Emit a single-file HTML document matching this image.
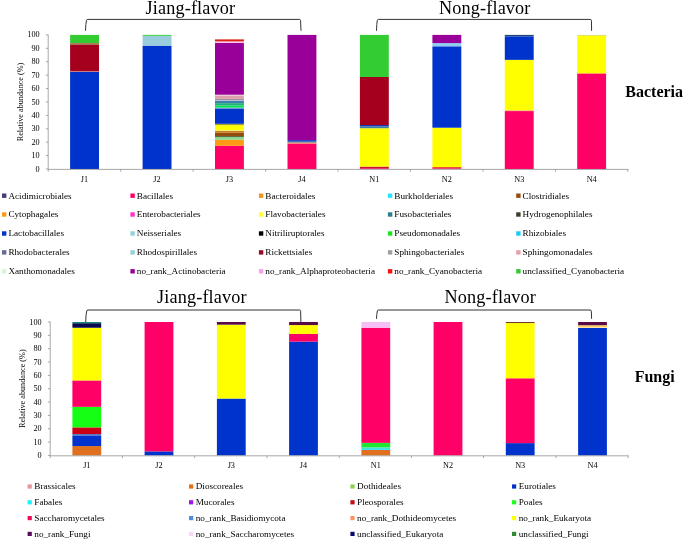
<!DOCTYPE html>
<html><head><meta charset="utf-8"><title>Relative abundance</title>
<style>html,body{margin:0;padding:0;background:#fff}svg{display:block}text{font-family:"Liberation Serif","DejaVu Serif",serif;fill:#000}.t{font-size:8.2px}.l{font-size:9.2px}.h{font-size:18.2px;letter-spacing:0.15px}.b{font-size:16px;font-weight:bold}</style></head><body>
<svg width="685" height="540" viewBox="0 0 685 540">
<rect width="685" height="540" fill="#fff"/>
<rect x="70.1" y="71.78" width="28.9" height="97.22" fill="#0033cc"/>
<rect x="70.1" y="70.97" width="28.9" height="0.80" fill="#c86464"/>
<rect x="70.1" y="44.69" width="28.9" height="26.28" fill="#a5001e"/>
<rect x="70.1" y="43.88" width="28.9" height="0.80" fill="#8c5a28"/>
<rect x="70.1" y="43.08" width="28.9" height="0.80" fill="#b4503c"/>
<rect x="70.1" y="34.90" width="28.9" height="8.18" fill="#33cc33"/>
<rect x="142.6" y="45.63" width="28.9" height="123.37" fill="#0033cc"/>
<rect x="142.6" y="35.84" width="28.9" height="9.79" fill="#99ccdd"/>
<rect x="142.6" y="34.90" width="28.9" height="0.94" fill="#33cc33"/>
<rect x="215.0" y="145.80" width="28.9" height="23.20" fill="#ff0066"/>
<rect x="215.0" y="139.77" width="28.9" height="6.03" fill="#ff9a14"/>
<rect x="215.0" y="137.08" width="28.9" height="2.68" fill="#8cd68c"/>
<rect x="215.0" y="136.01" width="28.9" height="1.07" fill="#5a6e46"/>
<rect x="215.0" y="132.66" width="28.9" height="3.35" fill="#964b0f"/>
<rect x="215.0" y="130.92" width="28.9" height="1.74" fill="#c8781e"/>
<rect x="215.0" y="130.38" width="28.9" height="0.54" fill="#e6e696"/>
<rect x="215.0" y="125.15" width="28.9" height="5.23" fill="#ffff00"/>
<rect x="215.0" y="123.81" width="28.9" height="1.34" fill="#a0a028"/>
<rect x="215.0" y="108.52" width="28.9" height="15.29" fill="#0033cc"/>
<rect x="215.0" y="107.58" width="28.9" height="0.94" fill="#6e8cc8"/>
<rect x="215.0" y="105.57" width="28.9" height="2.01" fill="#00e650"/>
<rect x="215.0" y="103.16" width="28.9" height="2.41" fill="#1eb478"/>
<rect x="215.0" y="100.88" width="28.9" height="2.28" fill="#3c82aa"/>
<rect x="215.0" y="100.21" width="28.9" height="0.67" fill="#aab4dc"/>
<rect x="215.0" y="99.54" width="28.9" height="0.67" fill="#b4a0b4"/>
<rect x="215.0" y="98.87" width="28.9" height="0.67" fill="#6e5a6e"/>
<rect x="215.0" y="95.38" width="28.9" height="3.49" fill="#dca0aa"/>
<rect x="215.0" y="94.71" width="28.9" height="0.67" fill="#f0d2dc"/>
<rect x="215.0" y="42.81" width="28.9" height="51.90" fill="#990099"/>
<rect x="215.0" y="41.40" width="28.9" height="1.41" fill="#fac8f0"/>
<rect x="215.0" y="39.39" width="28.9" height="2.01" fill="#dc1e14"/>
<rect x="287.5" y="143.52" width="28.9" height="25.48" fill="#ff0066"/>
<rect x="287.5" y="142.85" width="28.9" height="0.67" fill="#f08c50"/>
<rect x="287.5" y="141.78" width="28.9" height="1.07" fill="#968c8c"/>
<rect x="287.5" y="140.03" width="28.9" height="1.74" fill="#1e46be"/>
<rect x="287.5" y="34.90" width="28.9" height="105.13" fill="#990099"/>
<rect x="359.9" y="168.20" width="28.9" height="0.80" fill="#ff0066"/>
<rect x="359.9" y="166.59" width="28.9" height="1.61" fill="#c81428"/>
<rect x="359.9" y="128.23" width="28.9" height="38.35" fill="#ffff00"/>
<rect x="359.9" y="126.36" width="28.9" height="1.88" fill="#3c82aa"/>
<rect x="359.9" y="125.02" width="28.9" height="1.34" fill="#1437aa"/>
<rect x="359.9" y="77.01" width="28.9" height="48.01" fill="#a5001e"/>
<rect x="359.9" y="34.90" width="28.9" height="42.11" fill="#33cc33"/>
<rect x="432.4" y="168.33" width="28.9" height="0.67" fill="#ff0066"/>
<rect x="432.4" y="167.12" width="28.9" height="1.21" fill="#e61e28"/>
<rect x="432.4" y="127.70" width="28.9" height="39.43" fill="#ffff00"/>
<rect x="432.4" y="46.30" width="28.9" height="81.40" fill="#0033cc"/>
<rect x="432.4" y="43.08" width="28.9" height="3.22" fill="#8ccdf0"/>
<rect x="432.4" y="34.90" width="28.9" height="8.18" fill="#990099"/>
<rect x="504.8" y="111.07" width="28.9" height="57.93" fill="#ff0066"/>
<rect x="504.8" y="110.26" width="28.9" height="0.80" fill="#f0a078"/>
<rect x="504.8" y="59.84" width="28.9" height="50.42" fill="#ffff00"/>
<rect x="504.8" y="36.38" width="28.9" height="23.47" fill="#0033cc"/>
<rect x="504.8" y="34.90" width="28.9" height="1.48" fill="#1e4682"/>
<rect x="577.2" y="73.39" width="28.9" height="95.61" fill="#ff0066"/>
<rect x="577.2" y="35.57" width="28.9" height="37.82" fill="#ffff00"/>
<rect x="577.2" y="34.90" width="28.9" height="0.67" fill="#c8d250"/>
<path d="M48.2 34.6V169.4H628.4" fill="none" stroke="#929292" stroke-width="0.8"/>
<path d="M45.9 169.00H48.2M45.9 155.59H48.2M45.9 142.18H48.2M45.9 128.77H48.2M45.9 115.36H48.2M45.9 101.95H48.2M45.9 88.54H48.2M45.9 75.13H48.2M45.9 61.72H48.2M45.9 48.31H48.2M45.9 34.90H48.2M48.2 169.4v2.3M120.7 169.4v2.3M193.1 169.4v2.3M265.6 169.4v2.3M338.0 169.4v2.3M410.4 169.4v2.3M482.9 169.4v2.3M555.4 169.4v2.3M627.8 169.4v2.3" fill="none" stroke="#929292" stroke-width="0.8"/>
<text class="t" x="39.6" y="171.5" text-anchor="end">0</text>
<text class="t" x="39.6" y="158.1" text-anchor="end">10</text>
<text class="t" x="39.6" y="144.7" text-anchor="end">20</text>
<text class="t" x="39.6" y="131.3" text-anchor="end">30</text>
<text class="t" x="39.6" y="117.9" text-anchor="end">40</text>
<text class="t" x="39.6" y="104.5" text-anchor="end">50</text>
<text class="t" x="39.6" y="91.0" text-anchor="end">60</text>
<text class="t" x="39.6" y="77.6" text-anchor="end">70</text>
<text class="t" x="39.6" y="64.2" text-anchor="end">80</text>
<text class="t" x="39.6" y="50.8" text-anchor="end">90</text>
<text class="t" x="39.6" y="37.4" text-anchor="end">100</text>
<text class="t" x="84.5" y="181.7" text-anchor="middle">J1</text>
<text class="t" x="157.0" y="181.7" text-anchor="middle">J2</text>
<text class="t" x="229.4" y="181.7" text-anchor="middle">J3</text>
<text class="t" x="301.9" y="181.7" text-anchor="middle">J4</text>
<text class="t" x="374.3" y="181.7" text-anchor="middle">N1</text>
<text class="t" x="446.8" y="181.7" text-anchor="middle">N2</text>
<text class="t" x="519.3" y="181.7" text-anchor="middle">N3</text>
<text class="t" x="591.7" y="181.7" text-anchor="middle">N4</text>
<text class="t" transform="translate(22.6 102.0) rotate(-90)" text-anchor="middle">Relative abundance (%)</text>
<rect x="72.4" y="446.06" width="28.8" height="9.34" fill="#e0701e"/>
<rect x="72.4" y="435.39" width="28.8" height="10.67" fill="#0033cc"/>
<rect x="72.4" y="434.06" width="28.8" height="1.33" fill="#5078c8"/>
<rect x="72.4" y="427.39" width="28.8" height="6.67" fill="#cc0014"/>
<rect x="72.4" y="406.84" width="28.8" height="20.54" fill="#14ff14"/>
<rect x="72.4" y="380.43" width="28.8" height="26.41" fill="#ff0066"/>
<rect x="72.4" y="327.74" width="28.8" height="52.69" fill="#ffff00"/>
<rect x="72.4" y="323.20" width="28.8" height="4.54" fill="#0a0a50"/>
<rect x="72.4" y="322.00" width="28.8" height="1.20" fill="#148c78"/>
<rect x="144.6" y="451.40" width="28.8" height="4.00" fill="#0033cc"/>
<rect x="144.6" y="322.00" width="28.8" height="129.40" fill="#ff0066"/>
<rect x="216.9" y="398.57" width="28.8" height="56.83" fill="#0033cc"/>
<rect x="216.9" y="324.67" width="28.8" height="73.90" fill="#ffff00"/>
<rect x="216.9" y="322.00" width="28.8" height="2.67" fill="#5a0a46"/>
<rect x="289.1" y="341.61" width="28.8" height="113.79" fill="#0033cc"/>
<rect x="289.1" y="333.87" width="28.8" height="7.74" fill="#ff0066"/>
<rect x="289.1" y="325.07" width="28.8" height="8.80" fill="#ffff00"/>
<rect x="289.1" y="322.00" width="28.8" height="3.07" fill="#5a0a46"/>
<rect x="361.4" y="449.93" width="28.8" height="5.47" fill="#e0701e"/>
<rect x="361.4" y="447.40" width="28.8" height="2.53" fill="#3ce6e0"/>
<rect x="361.4" y="442.86" width="28.8" height="4.54" fill="#1ee632"/>
<rect x="361.4" y="327.74" width="28.8" height="115.12" fill="#ff0066"/>
<rect x="361.4" y="322.00" width="28.8" height="5.74" fill="#f5beF5"/>
<rect x="433.6" y="322.00" width="28.8" height="133.40" fill="#ff0066"/>
<rect x="505.8" y="443.13" width="28.8" height="12.27" fill="#0033cc"/>
<rect x="505.8" y="378.29" width="28.8" height="64.83" fill="#ff0066"/>
<rect x="505.8" y="323.07" width="28.8" height="55.23" fill="#ffff00"/>
<rect x="505.8" y="322.00" width="28.8" height="1.07" fill="#783c28"/>
<rect x="578.1" y="328.00" width="28.8" height="127.40" fill="#0033cc"/>
<rect x="578.1" y="327.47" width="28.8" height="0.53" fill="#fff0c8"/>
<rect x="578.1" y="325.20" width="28.8" height="2.27" fill="#ffcc66"/>
<rect x="578.1" y="322.00" width="28.8" height="3.20" fill="#5a0a46"/>
<path d="M50.2 321.7V455.8H628.7" fill="none" stroke="#929292" stroke-width="0.8"/>
<path d="M47.9 455.40H50.2M47.9 442.06H50.2M47.9 428.72H50.2M47.9 415.38H50.2M47.9 402.04H50.2M47.9 388.70H50.2M47.9 375.36H50.2M47.9 362.02H50.2M47.9 348.68H50.2M47.9 335.34H50.2M47.9 322.00H50.2M50.2 455.8v2.3M122.4 455.8v2.3M194.7 455.8v2.3M266.9 455.8v2.3M339.2 455.8v2.3M411.4 455.8v2.3M483.6 455.8v2.3M555.9 455.8v2.3M628.1 455.8v2.3" fill="none" stroke="#929292" stroke-width="0.8"/>
<text class="t" x="41.6" y="457.9" text-anchor="end">0</text>
<text class="t" x="41.6" y="444.6" text-anchor="end">10</text>
<text class="t" x="41.6" y="431.2" text-anchor="end">20</text>
<text class="t" x="41.6" y="417.9" text-anchor="end">30</text>
<text class="t" x="41.6" y="404.5" text-anchor="end">40</text>
<text class="t" x="41.6" y="391.2" text-anchor="end">50</text>
<text class="t" x="41.6" y="377.9" text-anchor="end">60</text>
<text class="t" x="41.6" y="364.5" text-anchor="end">70</text>
<text class="t" x="41.6" y="351.2" text-anchor="end">80</text>
<text class="t" x="41.6" y="337.8" text-anchor="end">90</text>
<text class="t" x="41.6" y="324.5" text-anchor="end">100</text>
<text class="t" x="86.8" y="468.3" text-anchor="middle">J1</text>
<text class="t" x="159.0" y="468.3" text-anchor="middle">J2</text>
<text class="t" x="231.3" y="468.3" text-anchor="middle">J3</text>
<text class="t" x="303.5" y="468.3" text-anchor="middle">J4</text>
<text class="t" x="375.8" y="468.3" text-anchor="middle">N1</text>
<text class="t" x="448.0" y="468.3" text-anchor="middle">N2</text>
<text class="t" x="520.2" y="468.3" text-anchor="middle">N3</text>
<text class="t" x="592.5" y="468.3" text-anchor="middle">N4</text>
<text class="t" transform="translate(24.8 388.7) rotate(-90)" text-anchor="middle">Relative abundance (%)</text>
<path d="M85.5 30.8Q85.7 23.4 86.5 20.4Q86.6 19.4 87.8 19.4H299.3Q300.5 19.4 300.55 20.6L301 30.8" fill="none" stroke="#333" stroke-width="1.0"/>
<path d="M376.5 30.8Q376.7 23.4 377.3 20.4Q377.4 19.4 378.6 19.4H590.2Q591.4 19.4 591.45 20.6L591.6 30.8" fill="none" stroke="#333" stroke-width="1.0"/>
<path d="M85.7 322Q85.9 314.0 86.7 311.0Q86.8 310.0 88.0 310.0H299.4Q300.6 310.0 300.65 311.2L300.9 322" fill="none" stroke="#333" stroke-width="1.0"/>
<path d="M376.5 318.8Q376.7 314.0 377.3 311.0Q377.4 310.0 378.6 310.0H590.1Q591.3 310.0 591.35 311.2L591.6 318.8" fill="none" stroke="#333" stroke-width="1.0"/>
<text class="h" x="190.4" y="13.7" text-anchor="middle">Jiang-flavor</text>
<text class="h" x="484.8" y="13.7" text-anchor="middle">Nong-flavor</text>
<text class="h" x="201.9" y="302.9" text-anchor="middle">Jiang-flavor</text>
<text class="h" x="490.3" y="302.9" text-anchor="middle">Nong-flavor</text>
<text class="b" x="625.3" y="96.7">Bacteria</text>
<text class="b" x="634.7" y="381.8">Fungi</text>
<rect x="2" y="193.5" width="4.4" height="4.4" fill="#4b3a7a"/>
<text class="l" x="8.4" y="198.6">Acidimicrobiales</text>
<rect x="130.4" y="193.5" width="4.4" height="4.4" fill="#ff0066"/>
<text class="l" x="136.8" y="198.6">Bacillales</text>
<rect x="258.9" y="193.5" width="4.4" height="4.4" fill="#f0961e"/>
<text class="l" x="265.3" y="198.6">Bacteroidales</text>
<rect x="387.9" y="193.5" width="4.4" height="4.4" fill="#28e6ff"/>
<text class="l" x="394.3" y="198.6">Burkholderiales</text>
<rect x="516.2" y="193.5" width="4.4" height="4.4" fill="#964b0f"/>
<text class="l" x="522.6" y="198.6">Clostridiales</text>
<rect x="2" y="212.3" width="4.4" height="4.4" fill="#ff9a14"/>
<text class="l" x="8.4" y="217.4">Cytophagales</text>
<rect x="130.4" y="212.3" width="4.4" height="4.4" fill="#ff32c8"/>
<text class="l" x="136.8" y="217.4">Enterobacteriales</text>
<rect x="258.9" y="212.3" width="4.4" height="4.4" fill="#ffff32"/>
<text class="l" x="265.3" y="217.4">Flavobacteriales</text>
<rect x="387.9" y="212.3" width="4.4" height="4.4" fill="#2d7d8c"/>
<text class="l" x="394.3" y="217.4">Fusobacteriales</text>
<rect x="516.2" y="212.3" width="4.4" height="4.4" fill="#3c3c28"/>
<text class="l" x="522.6" y="217.4">Hydrogenophilales</text>
<rect x="2" y="231.3" width="4.4" height="4.4" fill="#0033cc"/>
<text class="l" x="8.4" y="236.4">Lactobacillales</text>
<rect x="130.4" y="231.3" width="4.4" height="4.4" fill="#96d2dc"/>
<text class="l" x="136.8" y="236.4">Neisseriales</text>
<rect x="258.9" y="231.3" width="4.4" height="4.4" fill="#000000"/>
<text class="l" x="265.3" y="236.4">Nitriliruptorales</text>
<rect x="387.9" y="231.3" width="4.4" height="4.4" fill="#1ee61e"/>
<text class="l" x="394.3" y="236.4">Pseudomonadales</text>
<rect x="516.2" y="231.3" width="4.4" height="4.4" fill="#1ec8fa"/>
<text class="l" x="522.6" y="236.4">Rhizobiales</text>
<rect x="2" y="250.2" width="4.4" height="4.4" fill="#6a6a9a"/>
<text class="l" x="8.4" y="255.3">Rhodobacterales</text>
<rect x="130.4" y="250.2" width="4.4" height="4.4" fill="#96d2d7"/>
<text class="l" x="136.8" y="255.3">Rhodospirillales</text>
<rect x="258.9" y="250.2" width="4.4" height="4.4" fill="#960a28"/>
<text class="l" x="265.3" y="255.3">Rickettsiales</text>
<rect x="387.9" y="250.2" width="4.4" height="4.4" fill="#a0a0a0"/>
<text class="l" x="394.3" y="255.3">Sphingobacteriales</text>
<rect x="516.2" y="250.2" width="4.4" height="4.4" fill="#e6a0a5"/>
<text class="l" x="522.6" y="255.3">Sphingomonadales</text>
<rect x="2" y="269.1" width="4.4" height="4.4" fill="#d8f5d8"/>
<text class="l" x="8.4" y="274.2">Xanthomonadales</text>
<rect x="130.4" y="269.1" width="4.4" height="4.4" fill="#990099"/>
<text class="l" x="136.8" y="274.2">no_rank_Actinobacteria</text>
<rect x="258.9" y="269.1" width="4.4" height="4.4" fill="#f5a5e6"/>
<text class="l" x="265.3" y="274.2">no_rank_Alphaproteobacteria</text>
<rect x="387.9" y="269.1" width="4.4" height="4.4" fill="#f01414"/>
<text class="l" x="394.3" y="274.2">no_rank_Cyanobacteria</text>
<rect x="516.2" y="269.1" width="4.4" height="4.4" fill="#32c832"/>
<text class="l" x="522.6" y="274.2">unclassified_Cyanobacteria</text>
<rect x="27.6" y="484.4" width="4.2" height="4.2" fill="#e1969b"/>
<text class="l" x="34.3" y="489.3">Brassicales</text>
<rect x="189" y="484.4" width="4.2" height="4.2" fill="#e66e14"/>
<text class="l" x="195.7" y="489.3">Dioscoreales</text>
<rect x="350.4" y="484.4" width="4.2" height="4.2" fill="#8cd250"/>
<text class="l" x="357.1" y="489.3">Dothideales</text>
<rect x="512" y="484.4" width="4.2" height="4.2" fill="#0033cc"/>
<text class="l" x="518.7" y="489.3">Eurotiales</text>
<rect x="27.6" y="500.2" width="4.2" height="4.2" fill="#1ef0fa"/>
<text class="l" x="34.3" y="505.1">Fabales</text>
<rect x="189" y="500.2" width="4.2" height="4.2" fill="#a014e6"/>
<text class="l" x="195.7" y="505.1">Mucorales</text>
<rect x="350.4" y="500.2" width="4.2" height="4.2" fill="#c80a14"/>
<text class="l" x="357.1" y="505.1">Pleosporales</text>
<rect x="512" y="500.2" width="4.2" height="4.2" fill="#1eff1e"/>
<text class="l" x="518.7" y="505.1">Poales</text>
<rect x="27.6" y="516.0" width="4.2" height="4.2" fill="#f00a5a"/>
<text class="l" x="34.3" y="520.9">Saccharomycetales</text>
<rect x="189" y="516.0" width="4.2" height="4.2" fill="#508cdc"/>
<text class="l" x="195.7" y="520.9">no_rank_Basidiomycota</text>
<rect x="350.4" y="516.0" width="4.2" height="4.2" fill="#fa9664"/>
<text class="l" x="357.1" y="520.9">no_rank_Dothideomycetes</text>
<rect x="512" y="516.0" width="4.2" height="4.2" fill="#ffff14"/>
<text class="l" x="518.7" y="520.9">no_rank_Eukaryota</text>
<rect x="27.6" y="531.8" width="4.2" height="4.2" fill="#5a0a5a"/>
<text class="l" x="34.3" y="536.7">no_rank_Fungi</text>
<rect x="189" y="531.8" width="4.2" height="4.2" fill="#fad7f5"/>
<text class="l" x="195.7" y="536.7">no_rank_Saccharomycetes</text>
<rect x="350.4" y="531.8" width="4.2" height="4.2" fill="#0a0a6e"/>
<text class="l" x="357.1" y="536.7">unclassified_Eukaryota</text>
<rect x="512" y="531.8" width="4.2" height="4.2" fill="#2d8c32"/>
<text class="l" x="518.7" y="536.7">unclassified_Fungi</text>
</svg></body></html>
